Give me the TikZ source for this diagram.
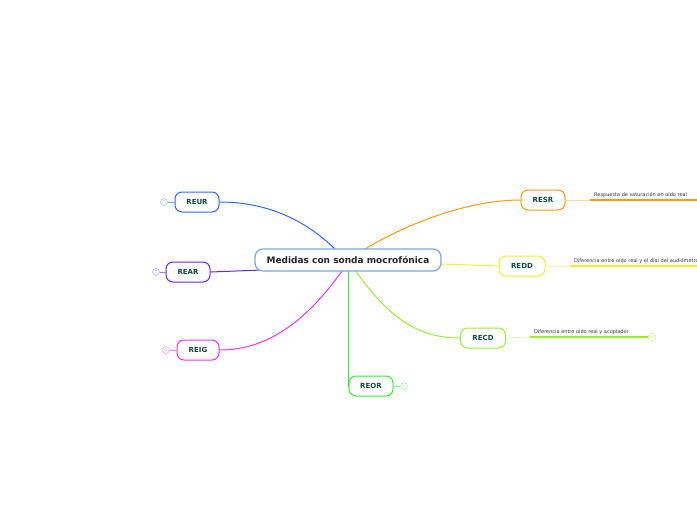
\documentclass[tikz,border=0pt]{standalone}
\usepackage{fontspec}
\setmainfont{DejaVu Sans}
\begin{document}
\begin{tikzpicture}[x=1pt,y=-1pt,
  topic/.style={draw,line width=1pt,rounded corners=7pt,minimum width=#1,minimum height=20pt,inner sep=0pt,font=\bfseries\fontsize{7}{8}\selectfont,text=tdark,fill=white},
  num/.style={draw,circle,line width=0.5pt,minimum size=7pt,inner sep=0pt,font=\fontsize{4}{4}\selectfont},
  lab/.style={font=\fontsize{5}{6}\selectfont,text=black!80,anchor=south west,inner sep=1pt},
  br/.style={line width=1pt}]
\definecolor{tdark}{HTML}{0E4A3A}
\definecolor{cblue}{HTML}{3366FF}\definecolor{cpur}{HTML}{6622EE}
\definecolor{cmag}{HTML}{EE33EE}\definecolor{cgrn}{HTML}{33EE33}
\definecolor{corg}{HTML}{FF9911}\definecolor{cyel}{HTML}{EEEE33}
\definecolor{clg}{HTML}{99EE33}\definecolor{ccen}{HTML}{77AADD}
\useasboundingbox (0,0) rectangle (697,520);
\coordinate (cUR) at (335,249); \coordinate (cSR) at (365,249);
\coordinate (cDD) at (441,264); \coordinate (cCD) at (355,270);
\coordinate (cOR) at (348,271); \coordinate (cIG) at (342,271);
\coordinate (cAR) at (262,270);
\node[topic=44pt,draw=cblue] (REUR) at (197,202) {REUR};
\node[topic=44pt,draw=cpur] (REAR) at (188,272) {REAR};
\node[topic=42pt,draw=cmag] (REIG) at (198,350) {REIG};
\node[topic=44pt,draw=cgrn] (REOR) at (371,386) {REOR};
\node[topic=44pt,draw=corg] (RESR) at (543,200) {RESR};
\node[topic=46pt,draw=cyel] (REDD) at (522,266) {REDD};
\node[topic=45pt,draw=clg] (RECD) at (483,338) {RECD};
\draw[br,cblue] (cUR) .. controls (300,215) and (260,202) .. (REUR.east);
\draw[br,corg] (cSR) .. controls (410,222) and (470,200) .. (RESR.west);
\draw[br,cyel] (cDD) -- (REDD.west);
\draw[br,clg] (cCD) .. controls (390,320) and (420,338) .. (RECD.west);
\draw[br,cgrn] (cOR) |- (REOR.west);
\draw[br,cmag] (cIG) .. controls (300,330) and (260,350) .. (REIG.east);
\draw[br,cpur] (cAR) -- (REAR.east);
\node[draw=ccen,line width=1.2pt,rounded corners=8pt,minimum width=186pt,minimum height=22pt,fill=white,font=\bfseries\fontsize{9}{10}\selectfont,text=black!85] (C) at (348,260) {Medidas con sonda mocrofónica};
\node[num,draw=cblue!50,text=cblue!50] (n1) at (164,202) {7}; \draw[cblue!60] (n1) -- (REUR);
\node[num,draw=cpur!50,text=cpur!50] (n2) at (156,272) {7}; \draw[cpur!60] (n2) -- (REAR);
\node[num,draw=cmag!50,text=cmag!50] (n3) at (166,350) {6}; \draw[cmag!60] (n3) -- (REIG);
\node[num,draw=cgrn!50,text=cgrn!50] (n4) at (404,386) {1}; \draw[cgrn!60] (n4) -- (REOR);
\coordinate (eSR) at (697,200); \coordinate (mSR) at (590,200);
\draw[corg!40,line width=0.6pt] (RESR.east) -- (mSR);
\draw[corg,line width=1.2pt] (mSR) -- (eSR);
\node[lab] at (593,199) {Respuesta de saturación en oído real};
\coordinate (eDD) at (697,266); \coordinate (mDD) at (570,266);
\draw[cyel!40,line width=0.6pt] (REDD.east) -- (mDD);
\draw[cyel,line width=1.2pt] (mDD) -- (eDD);
\node[lab] at (573,265) {Diferencia entre oído real y el dial del audiómetro};
\node[num,draw=clg!60,text=clg!60,minimum size=8pt] (n14) at (652,337) {14};
\coordinate (mCD) at (530,337);
\draw[clg!40,line width=0.6pt] (RECD.east) -- (mCD);
\draw[clg,line width=1.2pt] (mCD) -- (n14);
\node[lab] at (533,336) {Diferencia entre oído real y acoplador};
\end{tikzpicture}
\end{document}
